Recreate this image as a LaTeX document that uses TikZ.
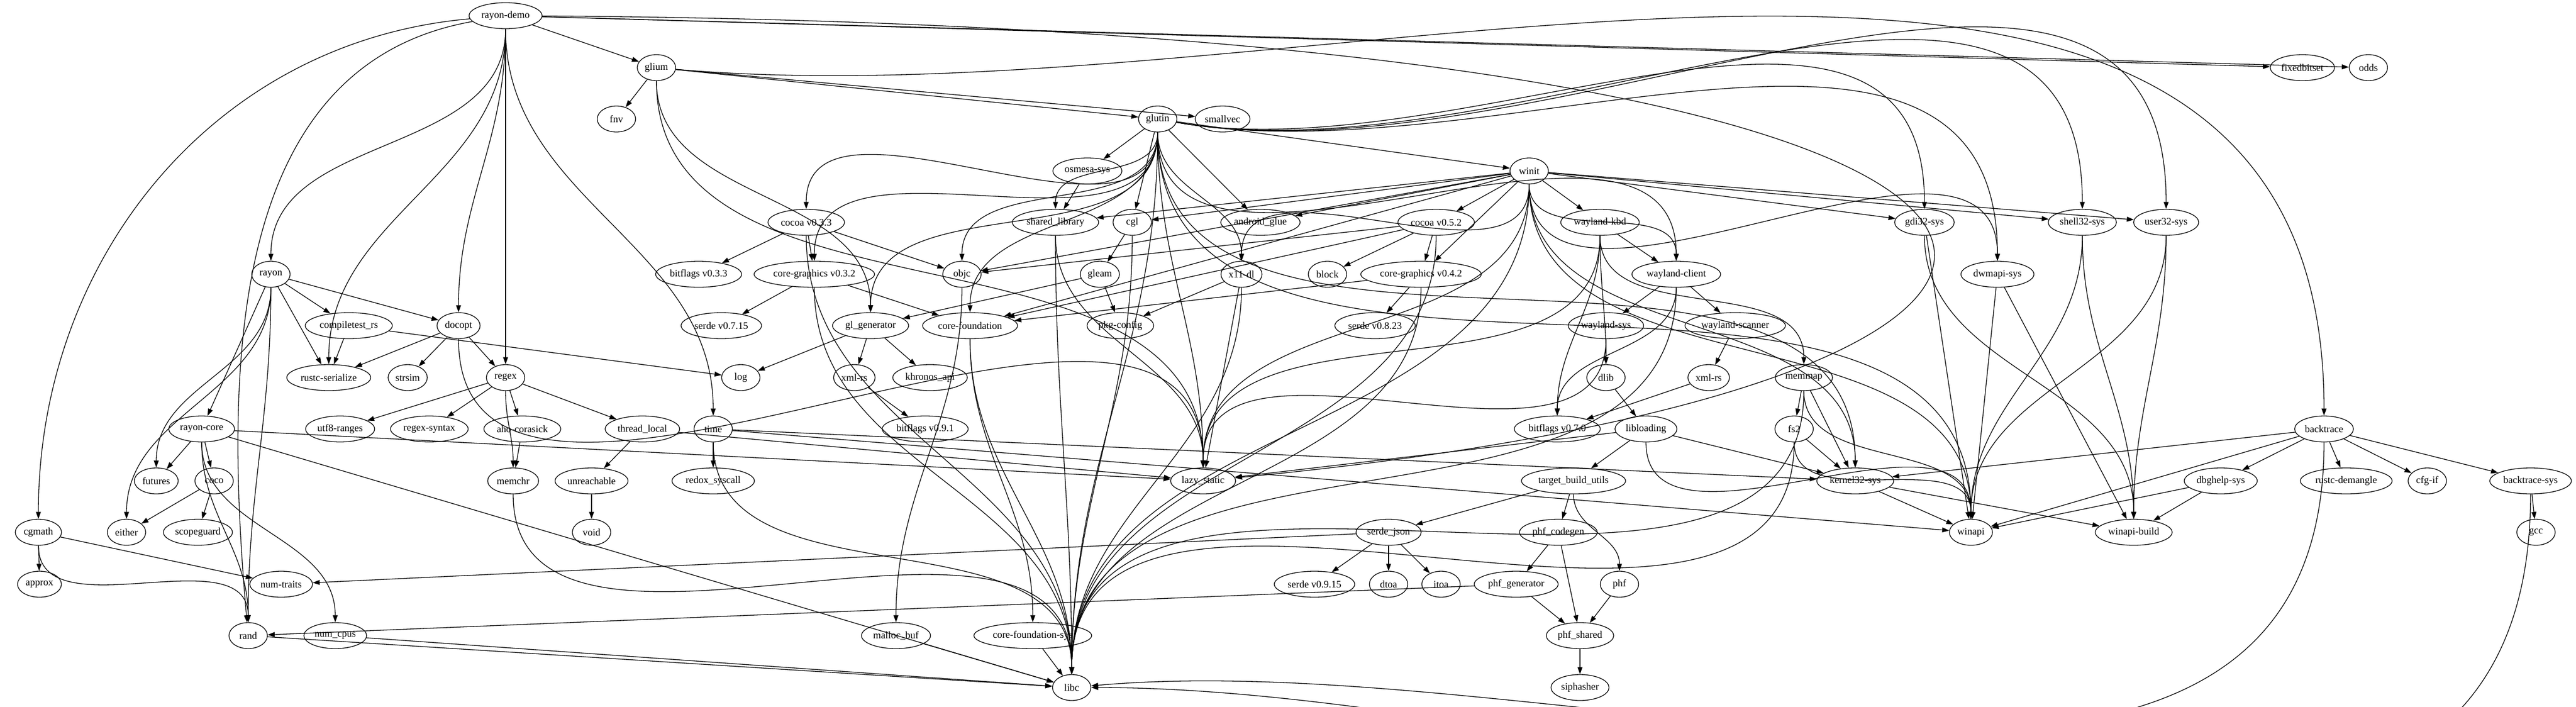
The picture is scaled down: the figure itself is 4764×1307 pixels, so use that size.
\documentclass[tikz,border=0pt]{standalone}
\usepackage{fontspec}
\setmainfont{Liberation Serif}
\usetikzlibrary{shapes.geometric,arrows.meta}
\begin{document}
\begin{tikzpicture}[x=0.2pt,y=-0.2pt,
  n/.style={ellipse,draw,line width=0.26pt,inner xsep=0.6pt,inner ysep=0.4pt,minimum height=9.6pt,minimum width=14.2pt,font=\fontsize{3.7}{4.4}\selectfont},
  e/.style={line width=0.26pt,-{Triangle[length=2.6pt,width=1.8pt]}},
  c/.style={out=-90,in=90}]
\useasboundingbox (0,0) rectangle (4764,1307);
% rank 0-3
\node[n] (rd) at (935,29) {rayon-demo};
\node[n] (glium) at (1214,125) {glium};
\node[n] (fixedbitset) at (4258,125) {fixedbitset};
\node[n] (odds) at (4380,125) {odds};
\node[n] (fnv) at (1140,220) {fnv};
\node[n] (glutin) at (2141,220) {glutin};
\node[n] (smallvec) at (2261,220) {smallvec};
\node[n] (osmesa) at (2011,316) {osmesa-sys};
\node[n] (winit) at (2828,316) {winit};
% rank 4
\node[n] (cocoa33) at (1491,411) {cocoa v0.3.3};
\node[n] (shlib) at (1952,411) {shared\_library};
\node[n] (cgl) at (2094,411) {cgl};
\node[n] (android) at (2331,411) {android\_glue};
\node[n] (cocoa52) at (2656,411) {cocoa v0.5.2};
\node[n] (wkbd) at (2959,411) {wayland-kbd};
\node[n] (gdi) at (3559,411) {gdi32-sys};
\node[n] (shell) at (3851,411) {shell32-sys};
\node[n] (user) at (4006,411) {user32-sys};
% rank 5
\node[n] (rayon) at (501,507) {rayon};
\node[n] (bit33) at (1292,507) {bitflags v0.3.3};
\node[n] (cg32) at (1506,507) {core-graphics v0.3.2};
\node[n] (objc) at (1779,507) {objc};
\node[n] (gleam) at (2034,507) {gleam};
\node[n] (x11) at (2296,507) {x11-dl};
\node[n] (block) at (2455,507) {block};
\node[n] (cg42) at (2628,507) {core-graphics v0.4.2};
\node[n] (wclient) at (3100,507) {wayland-client};
\node[n] (dwm) at (3694,507) {dwmapi-sys};
% rank 6
\node[n] (comp) at (645,602) {compiletest\_rs};
\node[n] (docopt) at (848,602) {docopt};
\node[n] (serde715) at (1334,602) {serde v0.7.15};
\node[n] (glgen) at (1610,602) {gl\_generator};
\node[n] (cf) at (1794,602) {core-foundation};
\node[n] (pkg) at (2072,602) {pkg-config};
\node[n] (serde823) at (2543,602) {serde v0.8.23};
\node[n] (wsys) at (2970,602) {wayland-sys};
\node[n] (wscan) at (3209,602) {wayland-scanner};
% rank 7
\node[n] (rs) at (608,698) {rustc-serialize};
\node[n] (strsim) at (754,698) {strsim};
\node[n] (regex) at (935,698) {regex};
\node[n] (log) at (1370,698) {log};
\node[n] (xmlg) at (1580,698) {xml-rs};
\node[n] (khronos) at (1720,698) {khronos\_api};
\node[n] (dlib) at (2970,698) {dlib};
\node[n] (xmlw) at (3160,698) {xml-rs};
\node[n] (memmap) at (3336,698) {memmap};
% rank 8
\node[n] (rcore) at (373,793) {rayon-core};
\node[n] (utf8) at (629,793) {utf8-ranges};
\node[n] (rsyn) at (794,793) {regex-syntax};
\node[n] (aho) at (966,793) {aho-corasick};
\node[n] (tl) at (1188,793) {thread\_local};
\node[n] (time) at (1319,793) {time};
\node[n] (bit91) at (1711,793) {bitflags v0.9.1};
\node[n] (bit70) at (2880,793) {bitflags v0.7.0};
\node[n] (libloading) at (3044,793) {libloading};
\node[n] (fs2) at (3318,793) {fs2};
\node[n] (backtrace) at (4298,793) {backtrace};
% rank 9
\node[n] (futures) at (289,889) {futures};
\node[n] (coco) at (396,889) {coco};
\node[n] (memchr) at (949,889) {memchr};
\node[n] (unreach) at (1094,889) {unreachable};
\node[n] (redox) at (1319,889) {redox\_syscall};
\node[n] (lazy) at (2225,889) {lazy\_static};
\node[n] (tbu) at (2910,889) {target\_build\_utils};
\node[n] (k32) at (3431,889) {kernel32-sys};
\node[n] (dbg) at (4107,889) {dbghelp-sys};
\node[n] (demangle) at (4339,889) {rustc-demangle};
\node[n] (cfgif) at (4489,889) {cfg-if};
\node[n] (btsys) at (4680,889) {backtrace-sys};
% rank 10
\node[n] (cgmath) at (71,984) {cgmath};
\node[n] (either) at (234,984) {either};
\node[n] (scope) at (366,984) {scopeguard};
\node[n] (void) at (1094,984) {void};
\node[n] (sjson) at (2568,984) {serde\_json};
\node[n] (phfc) at (2882,984) {phf\_codegen};
\node[n] (winapi) at (3645,984) {winapi};
\node[n] (wbuild) at (3946,984) {winapi-build};
\node[n] (gcc) at (4690,984) {gcc};
% rank 11
\node[n] (approx) at (73,1080) {approx};
\node[n] (numtraits) at (520,1080) {num-traits};
\node[n] (serde915) at (2431,1080) {serde v0.9.15};
\node[n] (dtoa) at (2568,1080) {dtoa};
\node[n] (itoa) at (2665,1080) {itoa};
\node[n] (phfg) at (2804,1080) {phf\_generator};
\node[n] (phf) at (2995,1080) {phf};
% rank 12-13
\node[n] (rand) at (459,1175) {rand};
\node[n] (numcpus) at (620,1175) {num\_cpus};
\node[n] (malloc) at (1657,1175) {malloc\_buf};
\node[n] (cfsys) at (1910,1175) {core-foundation-sys};
\node[n] (phfs) at (2922,1175) {phf\_shared};
\node[n] (libc) at (1982,1271) {libc};
\node[n] (siphasher) at (2922,1271) {siphasher};
% straight edges
\foreach \a/\b in {rd/regex,rd/glium,rd/fixedbitset,rd/odds,
  glium/fnv,glium/glutin,glium/smallvec,
  glutin/osmesa,glutin/cgl,glutin/android,glutin/winit,
  winit/shlib,winit/cgl,winit/objc,winit/cf,winit/android,winit/cocoa52,winit/cg42,winit/wkbd,winit/gdi,winit/user,winit/shell,
  cocoa52/block,cocoa52/cg42,cocoa52/objc,cocoa52/cf,cg42/serde823,cg42/cf,
  cocoa33/bit33,cocoa33/cg32,cocoa33/objc,cg32/serde715,cg32/cf,
  gleam/glgen,gleam/pkg,cgl/gleam,osmesa/shlib,x11/pkg,x11/lazy,
  glgen/log,glgen/xmlg,glgen/khronos,xmlg/bit91,cfsys/libc,malloc/libc,
  wkbd/wclient,wclient/wsys,wclient/wscan,wsys/dlib,dlib/libloading,wscan/xmlw,xmlw/bit70,
  libloading/tbu,libloading/k32,libloading/lazy,memmap/fs2,memmap/k32,fs2/k32,
  tbu/sjson,tbu/phfc,sjson/numtraits,sjson/serde915,sjson/dtoa,sjson/itoa,
  phfc/phfg,phfc/phfs,phfg/phfs,phfg/rand,phf/phfs,phfs/siphasher,
  k32/winapi,k32/wbuild,gdi/winapi,dwm/winapi,dwm/wbuild,
  backtrace/k32,backtrace/winapi,backtrace/dbg,backtrace/demangle,backtrace/cfgif,backtrace/btsys,
  dbg/winapi,dbg/wbuild,btsys/gcc,
  rayon/rcore,rayon/rs,rayon/comp,rayon/docopt,comp/rs,comp/log,
  docopt/rs,docopt/strsim,docopt/regex,regex/utf8,regex/rsyn,regex/aho,regex/tl,
  aho/memchr,tl/unreach,tl/lazy,unreach/void,rcore/futures,rcore/coco,rcore/libc,rcore/lazy,
  coco/either,coco/scope,cgmath/approx,cgmath/numtraits,rand/libc,numcpus/libc,
  time/redox,time/k32,time/winapi}
  \draw[e] (\a) -- (\b);
% curved edges
\foreach \a/\b in {rd/rayon,rd/rs,rd/docopt,rd/time,
  glium/lazy,glium/glgen,
  glutin/cocoa33,glutin/cg32,glutin/cf,glutin/objc,glutin/glgen,glutin/shlib,glutin/lazy,glutin/x11,glutin/libc,glutin/k32,glutin/winapi,glutin/wclient,
  winit/x11,winit/lazy,winit/libc,winit/wclient,winit/k32,winit/dwm,winit/winapi,
  cocoa52/libc,cg42/libc,cocoa33/libc,cg32/libc,objc/malloc,cgl/libc,shlib/libc,shlib/lazy,x11/libc,
  cf/cfsys,cf/libc,wkbd/dlib,wkbd/bit70,wkbd/lazy,wkbd/memmap,wclient/bit70,wclient/libc,wsys/lazy,
  libloading/winapi,memmap/winapi,memmap/libc,fs2/winapi,fs2/libc,tbu/phf,
  gdi/wbuild,shell/winapi,shell/wbuild,user/winapi,user/wbuild,
  rayon/either,rayon/futures,rayon/rand,docopt/lazy,regex/memchr,memchr/libc,
  rcore/rand,rcore/numcpus,cgmath/rand,time/libc}
  \draw[e] (\a) to[c] (\b);
% edges routed around
\draw[e] (rd) to[out=185,in=90] (cgmath);
\draw[e] (rd) to[out=190,in=95] (rand);
\draw[e] (rd) .. controls (4150,50) and (4200,700) .. (lazy);
\draw[e] (glium) to[out=-5,in=90] (backtrace);
\foreach \b in {gdi,shell,user,dwm}
  \draw[e] (glutin) to[out=-10,in=90] (\b);
\draw[e] (backtrace) to[out=-90,in=5] (libc);
\draw[e] (btsys) to[out=-90,in=0] (libc);
\end{tikzpicture}
\end{document}
